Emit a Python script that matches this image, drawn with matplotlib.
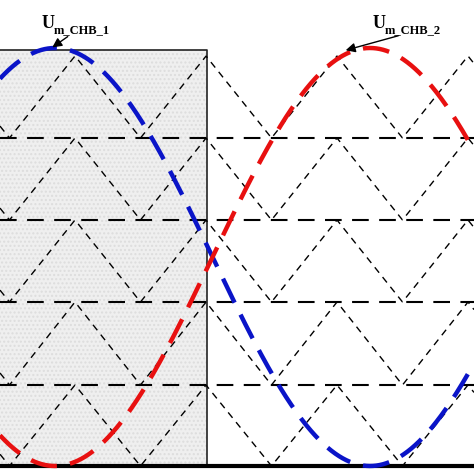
import numpy as np
import matplotlib.pyplot as plt

band_edges = [56, 138, 220, 302, 385, 466]
carrier_period = 131
carrier_peak0 = 75
sine_peak_x = 55
sine_period = 630
sine_center = 257
sine_amp = 209
labels = ["U", "m_CHB_1", "U", "m_CHB_2"]

fig = plt.figure(figsize=(4.74, 4.74), dpi=100)
ax = fig.add_axes([0, 0, 1, 1])
ax.set_xlim(0, 474); ax.set_ylim(474, 0); ax.axis('off')

ax.add_patch(plt.Rectangle((0, 50), 207, 416, facecolor='#efefef', edgecolor='none', zorder=0))
ax.add_patch(plt.Rectangle((0, 50), 207, 416, facecolor='none', edgecolor='#dddddd', hatch='....', lw=0, zorder=0))
ax.plot([0, 207, 207], [50, 50, 466], color='#222', lw=1.2)

x = np.linspace(0, 474, 2000)
# triangle carriers
ph = ((x - carrier_peak0) / carrier_period) % 1.0
tri = 1 - 2 * np.minimum(ph, 1 - ph)  # 1 at peak, 0 at trough... adjust
tri = 1 - np.abs(2 * (((x - carrier_peak0) / carrier_period + 0.5) % 1.0) - 1)
for top, bot in zip(band_edges[:-1], band_edges[1:]):
    ax.plot(x, bot - tri * (bot - top), color='k', lw=1, ls=(0, (5, 4)))
for yl in band_edges[1:-1]:
    ax.plot([0, 474], [yl, yl], color='k', lw=1.5, ls=(0, (8, 5)))
ax.plot([0, 474], [466, 466], color='k', lw=3)

blue = sine_center - sine_amp * np.cos(2 * np.pi * (x - sine_peak_x) / sine_period)
red = sine_center + sine_amp * np.cos(2 * np.pi * (x - sine_peak_x) / sine_period)
ax.plot(x, blue, color='#0a14c8', lw=3.2, ls=(0, (6, 3)), zorder=5)
ax.plot(x, red, color='#e81010', lw=3.2, ls=(0, (6, 3)), zorder=5)

for (bx, by), (tx, ty), (a, b) in [((50, 49), (42, 32), labels[:2]), ((343, 51), (373, 32), labels[2:])]:
    ax.annotate('', xy=(bx, by), xytext=(tx + 28, ty + 3),
                arrowprops=dict(arrowstyle='-|>', color='k', lw=1, mutation_scale=14), zorder=6)
    ax.text(tx, ty, a, fontsize=13, fontweight='bold', family='Liberation Serif', va='bottom')
    ax.text(tx + 12, ty + 4, b.replace('_', '_'), fontsize=9, fontweight='bold', family='Liberation Serif', va='bottom')
fig.savefig('out.png', dpi=100)
